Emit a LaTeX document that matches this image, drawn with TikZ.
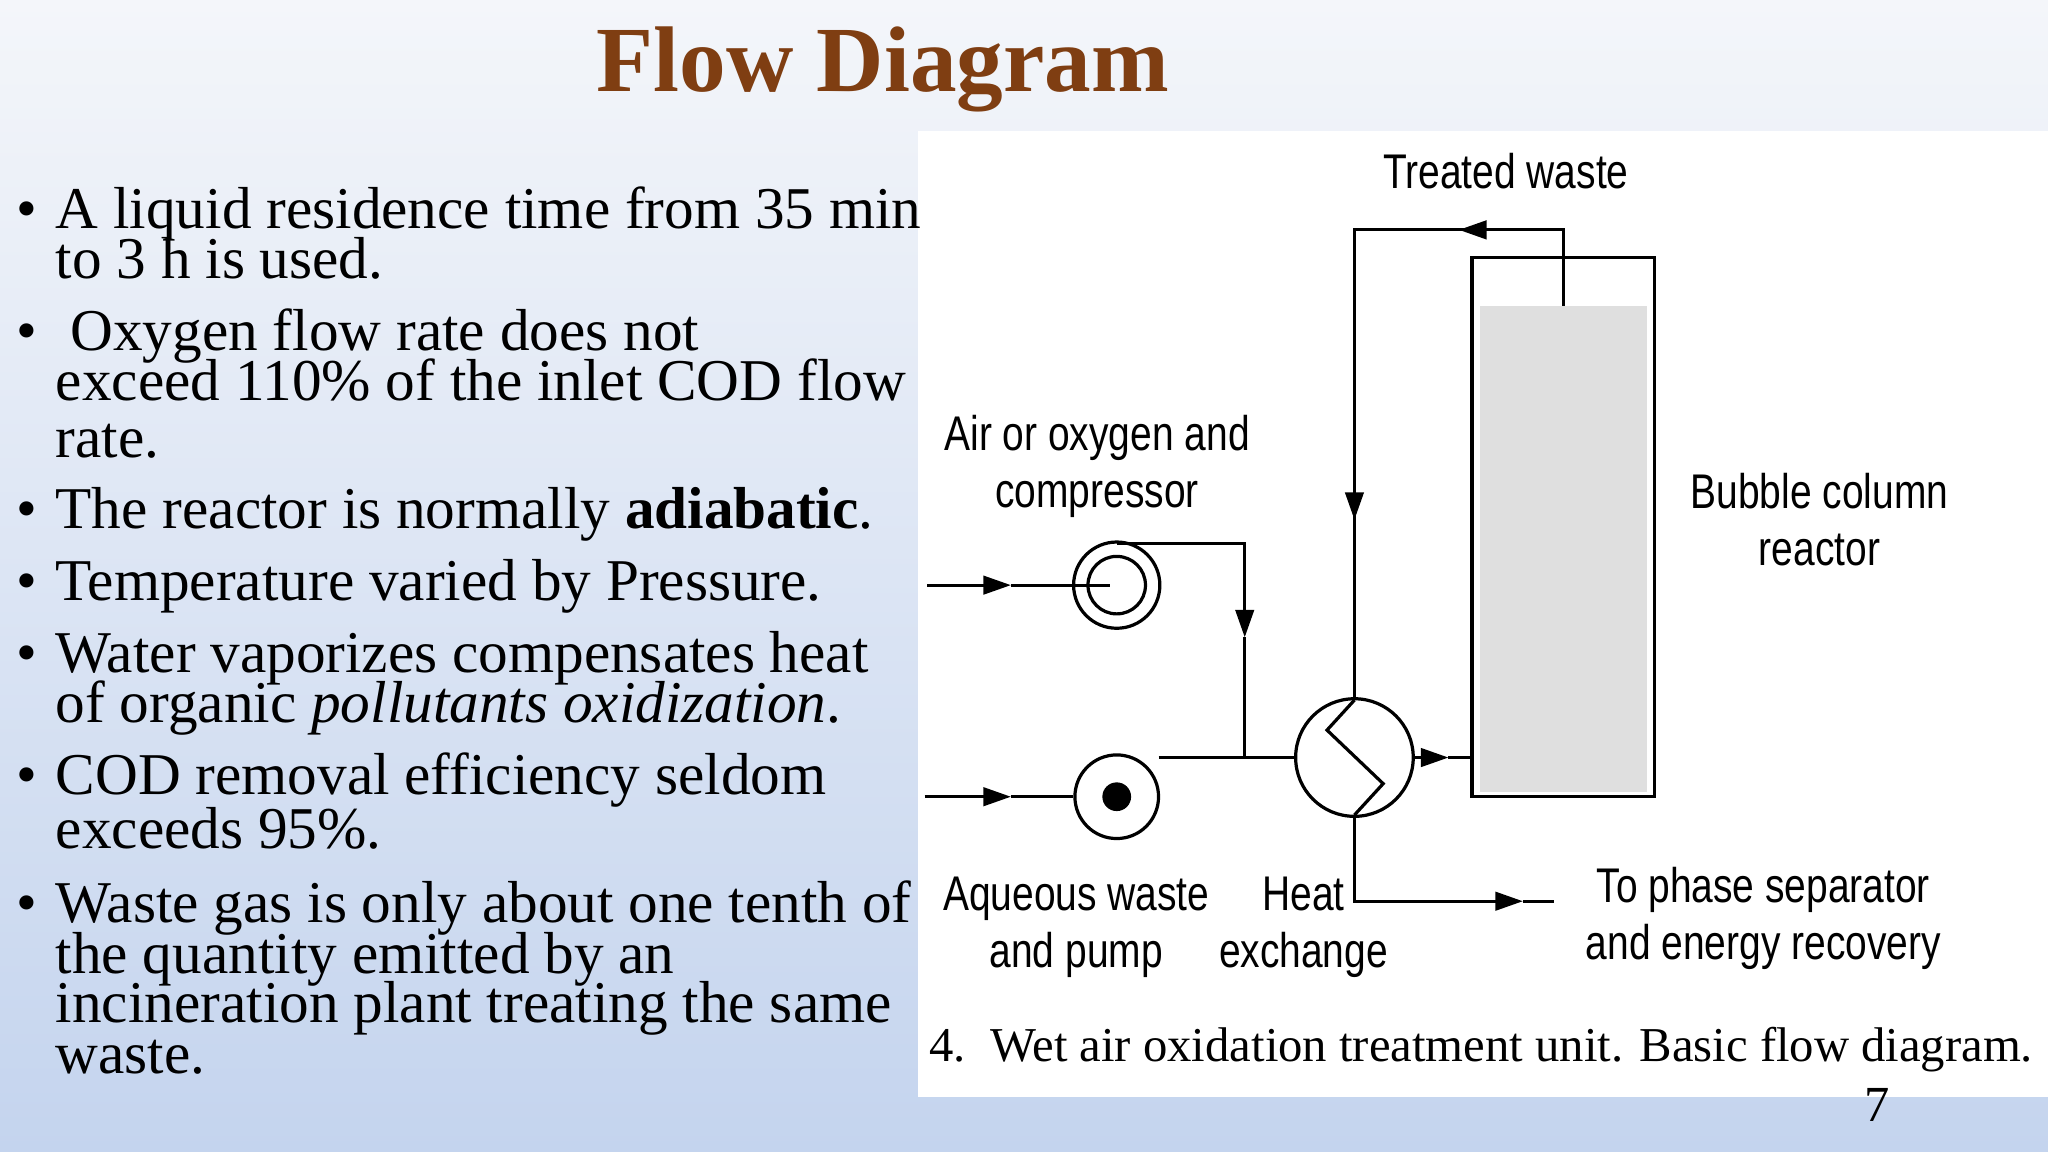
\documentclass[tikz,border=0pt]{standalone}
\usepackage{fontspec}
\setmainfont{Liberation Serif}
\newfontfamily\diag[FakeStretch=0.8]{Liberation Sans}
\usetikzlibrary{arrows.meta}
\definecolor{titlec}{HTML}{7F3E12}
\begin{document}
\begin{tikzpicture}[x=0.01cm,y=-0.01cm,
  bl/.style={anchor=base west,inner sep=0,font=\fontsize{12.9}{12}\selectfont},
  dl/.style={align=center,inner sep=0,font=\diag\fontsize{10.6}{12.5}\selectfont},
  ln/.style={line width=0.7pt},
  tip/.style={ln,-{Triangle[length=6pt,width=4pt]}}]
\useasboundingbox (0,0) rectangle (1568,882);
\shade[top color={rgb,255:red,244;green,246;blue,250},middle color={rgb,255:red,176;green,196;blue,232},bottom color={rgb,255:red,196;green,212;blue,238}] (0,0) rectangle (1568,882);
\fill[white] (703,100) rectangle (1568,840);
\node[anchor=base,inner sep=0,font=\bfseries\fontsize{20.3}{22}\selectfont,text=titlec] (title) at (676,70) {Flow Diagram};
% bullets
\foreach \y in {175,268,405,460,515,608,706}{\node[bl] at (12,\y) {\textbullet};}
\node[bl] (b1) at (42,175) {A liquid residence time from 35 min};
\node[bl] (b1b) at (42,213) {to 3 h is used.};
\node[bl] (b2) at (42,268) {\ Oxygen flow rate does not};
\node[bl] (b2b) at (42,307) {exceed 110\% of the inlet COD flow};
\node[bl] (b2c) at (42,350) {rate.};
\node[bl] (b3) at (42,405) {The reactor is normally \textbf{adiabatic}.};
\node[bl] (b4) at (42,460) {Temperature varied by Pressure.};
\node[bl] (b5) at (42,515) {Water vaporizes compensates heat};
\node[bl] (b5b) at (42,553) {of organic \textit{pollutants oxidization}.};
\node[bl] (b6) at (42,608) {COD removal efficiency seldom};
\node[bl] (b6b) at (42,650) {exceeds 95\%.};
\node[bl] (b7) at (42,706) {Waste gas is only about one tenth of};
\node[bl] (b7b) at (42,745) {the quantity emitted by an};
\node[bl] (b7c) at (42,783) {incineration plant treating the same};
\node[bl] (b7d) at (42,822) {waste.};
% reactor
\draw[ln] (1127,197) rectangle (1267,610);
\fill[gray!25] (1133,234) rectangle (1261,606);
\coordinate (rtop) at (1197,234);
\coordinate (r1) at (1197,176);
\coordinate (r2) at (1037,176);
\coordinate (rm) at (1117,176);
\coordinate (hxtop) at (1037,535);
\coordinate (dm) at (1037,398);
\draw[ln] (rtop) -- (r1) -- (rm);
\draw[tip] (r1) -- (rm);
\draw[ln] (rm) -- (r2) -- (hxtop);
\draw[tip] (r2) -- (dm);
% compressor
\node[circle,draw,ln,minimum size=66pt*0.2845,inner sep=0] (comp) at (855,448) {};
\node[circle,draw,ln,minimum size=44pt*0.2845,inner sep=0] (compi) at (855,448) {};
\coordinate (cin) at (710,448);
\coordinate (cm) at (774,448);
\draw[tip] (cin) -- (cm);
\draw[ln] (cm) -- (850,448);
\coordinate (co) at (855,416);
\coordinate (c1) at (953,416);
\coordinate (c2) at (953,580);
\coordinate (cdm) at (953,488);
\draw[tip] (co) -- (c1) -- (cdm);
\draw[ln] (cdm) -- (c2);
% pump
\node[circle,draw,ln,minimum size=64pt*0.2845,inner sep=0] (pump) at (855,610) {};
\fill (855,610) circle (11);
\coordinate (pin) at (708,610);
\coordinate (pm) at (774,610);
\draw[tip] (pin) -- (pm);
\draw[ln] (pm) -- (pump.west);
\draw[ln] (887,580) -- (992,580);
% heat exchanger
\node[circle,draw,ln,minimum size=90pt*0.2845,inner sep=0] (hx) at (1037,580) {};
\draw[ln] (1037,536) -- (1016,559) -- (1059,600) -- (1037,624);
\coordinate (hm) at (1109,580);
\draw[tip] (hx.east) -- (hm);
\draw[ln] (hm) -- (1127,580);
\coordinate (h1) at (1037,690);
\coordinate (h2) at (1190,690);
\coordinate (hm2) at (1166,690);
\draw[tip] (hx.south) -- (h1) -- (hm2);
\draw[ln] (hm2) -- (h2);
% labels
\node[dl] (lt) at (1153,131) {Treated waste};
\node[dl] (la) at (840,357) {Air or oxygen and\\compressor};
\node[dl] (lr) at (1393,398) {Bubble column\\reactor};
\node[dl] (lp) at (824,710) {Aqueous waste\\and pump};
\node[dl] (lh) at (998,710) {Heat\\exchange};
\node[dl] (ls) at (1350,703) {To phase separator\\and energy recovery};
\node[anchor=base west,inner sep=0,font=\fontsize{10.6}{10}\selectfont] (cap) at (711,813) {4.\ \ Wet air oxidation treatment unit. Basic flow diagram.};
\node[inner sep=0,font=\fontsize{11}{11}\selectfont] (pg) at (1437,846) {7};
\end{tikzpicture}
\end{document}
